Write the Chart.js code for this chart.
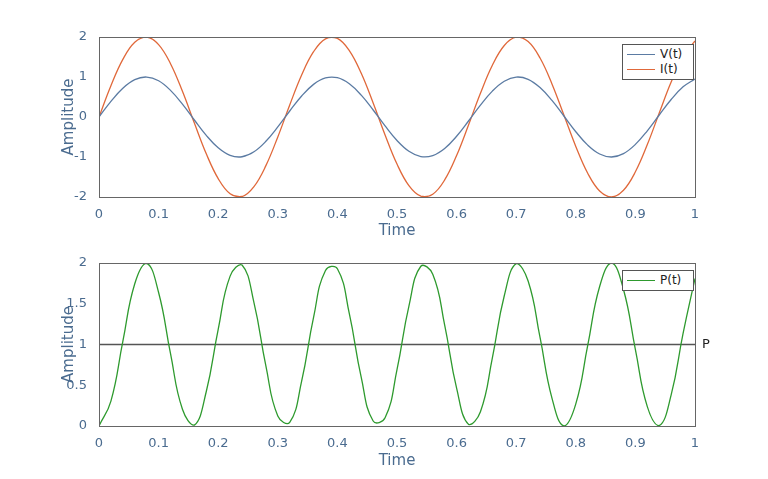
<!DOCTYPE html>
<html><head><meta charset="utf-8">
<script src="https://cdn.jsdelivr.net/npm/chart.js@4"></script>
<style>
body{margin:0;background:#fff;width:768px;height:479px;position:relative;overflow:hidden;font-family:"DejaVu Sans",sans-serif}
canvas{position:absolute;left:0}
.leg{position:absolute;background:#fff;border:1px solid #555;font-size:12px;padding:2px 4px;line-height:15px;color:#222}
.leg span{display:inline-block;width:28px;height:0;border-top:1.5px solid;vertical-align:middle;margin-right:5px}
</style></head><body>
<canvas id="c1" width="768" height="240" style="top:0"></canvas>
<canvas id="c2" width="768" height="240" style="top:240px"></canvas>
<div class="leg" style="left:622px;top:44px;width:62px"><div><span style="border-color:#5b7ba3"></span>V(t)</div><div><span style="border-color:#e0683a"></span>I(t)</div></div>
<div class="leg" style="left:622px;top:270px;width:62px"><div><span style="border-color:#2e9a2e"></span>P(t)</div></div>
<div style="position:absolute;left:702px;top:336px;font-size:13px;color:#222">P</div>
<script>
const time=[0,0.02,0.04,0.06,0.08,0.10,0.12,0.14,0.16,0.18,0.20,0.22,0.24,0.26,0.28,0.30,0.32,0.34,0.36,0.38,0.40,0.42,0.44,0.46,0.48,0.50,0.52,0.54,0.56,0.58,0.60,0.62,0.64,0.66,0.68,0.70,0.72,0.74,0.76,0.78,0.80,0.82,0.84,0.86,0.88,0.90,0.92,0.94,0.96,0.98,1.00];
const voltage=[0,0.391,0.720,0.934,0.999,0.905,0.666,0.321,-0.075,-0.460,-0.770,-0.959,-0.994,-0.870,-0.608,-0.249,0.150,0.525,0.816,0.977,0.982,0.830,0.546,0.175,-0.224,-0.588,-0.858,-0.990,-0.965,-0.787,-0.482,-0.100,0.297,0.647,0.894,0.998,0.943,0.737,0.414,0.025,-0.368,-0.703,-0.925,-1.000,-0.915,-0.685,-0.345,0.050,0.437,0.754,0.951];
const current=[0,0.782,1.440,1.868,1.998,1.810,1.332,0.642,-0.150,-0.920,-1.540,-1.918,-1.988,-1.740,-1.216,-0.498,0.300,1.050,1.632,1.954,1.964,1.660,1.092,0.350,-0.448,-1.176,-1.716,-1.980,-1.930,-1.574,-0.964,-0.200,0.594,1.294,1.788,1.996,1.886,1.474,0.828,0.050,-0.736,-1.406,-1.850,-2.000,-1.830,-1.370,-0.690,0.100,0.874,1.508,1.902];
const power=[0,0.306,1.037,1.745,1.996,1.638,0.887,0.206,0.011,0.423,1.186,1.839,1.976,1.514,0.739,0.124,0.045,0.551,1.332,1.909,1.929,1.378,0.596,0.061,0.100,0.692,1.472,1.960,1.862,1.239,0.465,0.020,0.176,0.837,1.598,1.992,1.779,1.086,0.343,0.001,0.271,0.988,1.711,2.000,1.675,0.938,0.238,0.005,0.382,1.137,1.809];
const avgPower=[1,1];
const xTicks=[0,0.1,0.2,0.3,0.4,0.5,0.6,0.7,0.8,0.9,1];
const AX='#4a6b8f';
const FONT='"DejaVu Sans", sans-serif';
const box={id:'box',afterDraw(c){const a=c.chartArea,g=c.ctx;g.save();g.strokeStyle='#666';g.lineWidth=1;g.strokeRect(a.left+0.5,a.top+0.5,a.right-a.left,a.bottom-a.top);g.restore();}};
function pts(ys){return time.map((t,i)=>({x:t,y:ys[i]}));}
function make(id,datasets,ymin,ymax,ystep,padTop,xh,padBottom){
 new Chart(document.getElementById(id),{type:'line',data:{datasets},plugins:[box],
 options:{responsive:false,animation:false,layout:{padding:{top:padTop,right:73,left:60,bottom:padBottom}},
 plugins:{legend:{display:false},tooltip:{enabled:false}},
 elements:{point:{radius:0},line:{tension:0.4,borderWidth:1.3}},
 scales:{x:{type:'linear',min:0,max:1,afterBuildTicks(s){s.ticks=xTicks.map(v=>({value:v}));},afterFit(s){s.height=xh;},
   grid:{display:false},border:{display:false},ticks:{color:AX,font:{size:13,family:FONT},maxRotation:0,padding:2,callback:v=>String(v)},
   title:{display:true,text:'Time',color:AX,font:{size:15,family:FONT},padding:0}},
  y:{min:ymin,max:ymax,afterFit(s){s.width=39;},grid:{display:false},border:{display:false},
   ticks:{stepSize:ystep,color:AX,font:{size:13,family:FONT},padding:4,callback:v=>String(v)},
   title:{display:true,text:'Amplitude',color:AX,font:{size:15,family:FONT},padding:0}}}}});
}
make('c1',[{data:pts(voltage),borderColor:'#5b7ba3'},{data:pts(current),borderColor:'#e0683a'}],-2,2,1,37,43,0);
make('c2',[{data:pts(power),borderColor:'#2e9a2e',tension:0.45},{data:[{x:0,y:avgPower[0]},{x:1,y:avgPower[1]}],borderColor:'#555',tension:0}],0,2,0.5,23,44,10);
</script></body></html>
